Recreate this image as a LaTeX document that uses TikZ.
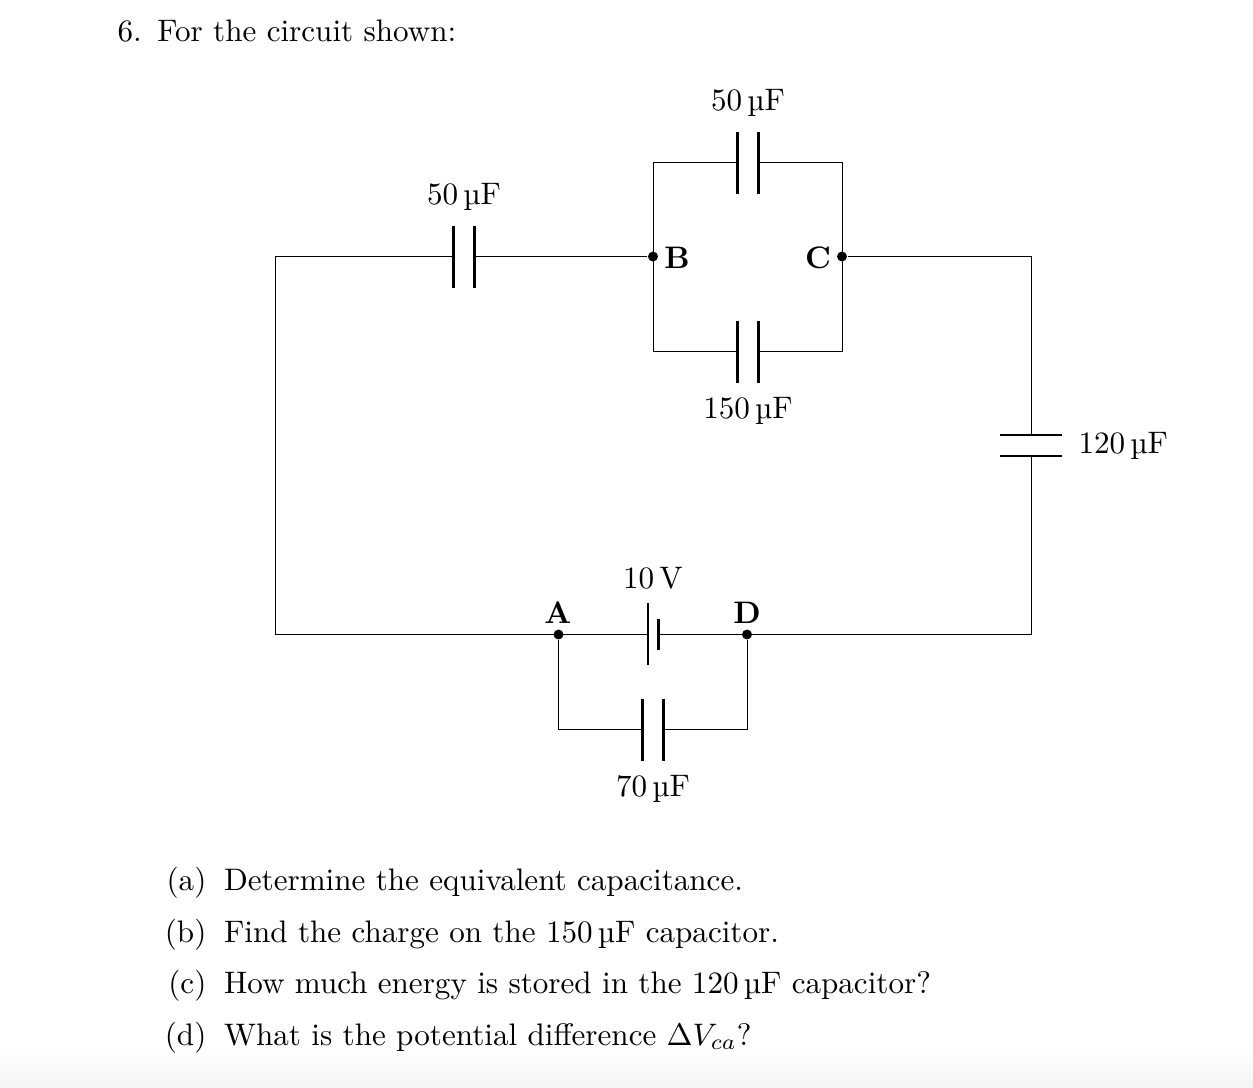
\documentclass[tikz,border=0pt]{standalone}
\usepackage{amsmath, amssymb}
\usepackage{xcolor}
\usepackage{tikz}
\usetikzlibrary{positioning}
\tikzset{
    wire/.style={line width=0.3pt},
    plate/.style={line width=0.65pt},
    dot/.style={circle, fill=black, inner sep=0pt, minimum size=3.2pt},
    lbl/.style={inner sep=0pt},
    txt/.style={inner sep=0pt, anchor=base west}
}
\newcommand{\uF}{\,\textmu F}
\begin{document}
\begin{tikzpicture}[x=0.3215pt, y=-0.3215pt]
    \useasboundingbox (0,0) rectangle (1253,1087);
    \shade [top color=white, bottom color=black!4] (0,1050) rectangle (1253,1087);

    % Corners and junctions
    \coordinate (tl) at (275,256.5);
    \coordinate (bl) at (275,634.5);
    \coordinate (tr) at (1031,256.5);
    \coordinate (br) at (1031,634.5);
    \coordinate (b1) at (653,162.5);
    \coordinate (c1) at (842,162.5);
    \coordinate (b2) at (653,351.5);
    \coordinate (c2) at (842,351.5);
    \coordinate (a2) at (558.5,729.5);
    \coordinate (d2) at (747,729.5);

    % Capacitors
    \foreach \n/\x/\y in {capa/464/256.5, capb/748/162.5, capc/748/351.5, capd/653/729.5} {
        \coordinate (\n-l) at (\x-10.5,\y);
        \coordinate (\n-r) at (\x+10.5,\y);
        \draw [plate] (\x-10.5,\y-31) -- (\x-10.5,\y+31);
        \draw [plate] (\x+10.5,\y-31) -- (\x+10.5,\y+31);
    }
    \coordinate (cape-t) at (1031,435);
    \coordinate (cape-b) at (1031,456);
    \draw [plate] (1000,435) -- (1062,435);
    \draw [plate] (1000,456) -- (1062,456);

    % Battery
    \coordinate (batt-l) at (648,634.5);
    \coordinate (batt-r) at (658.5,634.5);
    \draw [plate] (648,603) -- (648,665);
    \draw [plate] (658.5,619) -- (658.5,650);

    % Junction dots
    \node [dot] (B) at (653,256.5) {};
    \node [dot] (C) at (842,256.5) {};
    \node [dot] (A) at (558.5,634.5) {};
    \node [dot] (D) at (747,634.5) {};

    % Wires
    \draw [wire] (capa-l) -- (tl) -- (bl) -- (batt-l);
    \draw [wire] (capa-r) -- (B);
    \draw [wire] (capb-l) -- (b1) -- (b2) -- (capc-l);
    \draw [wire] (capb-r) -- (c1) -- (c2) -- (capc-r);
    \draw [wire] (C) -- (tr) -- (cape-t);
    \draw [wire] (cape-b) -- (br) -- (batt-r);
    \draw [wire] (A) -- (a2) -- (capd-l);
    \draw [wire] (D) -- (d2) -- (capd-r);

    % Labels
    \node [lbl] (l1) at (464,197) {50\uF};
    \node [lbl] (l2) at (748,103) {50\uF};
    \node [lbl] (l3) at (748,411) {150\uF};
    \node [lbl] (l4) at (653,789) {70\uF};
    \node [lbl, anchor=west] (l5) at (1078,446) {120\uF};
    \node [lbl] (l6) at (653,578) {10\,V};
    \node [lbl] (nA) at (558,613) {\textbf{A}};
    \node [lbl] (nD) at (747,613) {\textbf{D}};
    \node [lbl] (nB) at (677,257.5) {\textbf{B}};
    \node [lbl] (nC) at (818,257.5) {\textbf{C}};

    % Text
    \node [txt] (title) at (117,41) {6.\hspace{5pt}For the circuit shown:};
    \node [txt, anchor=base east] (qa) at (207,890) {(a)};
    \node [txt] (ta) at (223.5,890) {Determine the equivalent capacitance.};
    \node [txt, anchor=base east] (qb) at (207,942) {(b)};
    \node [txt] (tb) at (223.5,942) {Find the charge on the 150\uF{} capacitor.};
    \node [txt, anchor=base east] (qc) at (207,993) {(c)};
    \node [txt] (tc) at (223.5,993) {How much energy is stored in the 120\uF{} capacitor?};
    \node [txt, anchor=base east] (qd) at (207,1045) {(d)};
    \node [txt] (td) at (223.5,1045) {What is the potential difference $\Delta V_{ca}$?};
\end{tikzpicture}
\end{document}
